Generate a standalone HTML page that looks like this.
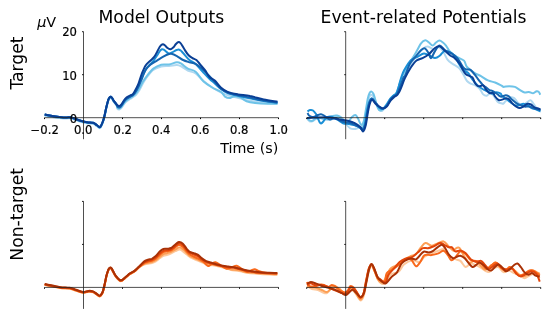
<!DOCTYPE html>
<html><head><meta charset="utf-8"><title>ERP figure</title>
<style>
html,body{margin:0;padding:0;background:#fff;}
svg{display:block;font-family:"DejaVu Sans","Liberation Sans",sans-serif;fill:#000;}
.c{fill:none;stroke-width:2.0;stroke-linejoin:round;stroke-linecap:butt;}
.tk{stroke:#000;stroke-width:1;fill:none;}
.ax{stroke:#222;stroke-width:0.8;fill:none;shape-rendering:auto;}
</style></head><body>
<svg width="550" height="320" viewBox="0 0 550 320">
<rect width="550" height="320" fill="#fff"/>
<path class="c" stroke="#b0d8f0" d="M44.7,115.4 C46.5,115.8 52.5,117.1 55.6,117.6 C58.7,118.1 60.8,118.3 63.4,118.5 C66.0,118.7 68.7,118.0 71.2,118.5 C73.8,119.0 76.4,120.4 79.0,121.2 C81.6,122.0 84.6,122.8 86.9,123.2 C89.2,123.6 91.4,123.3 93.1,123.8 C94.8,124.3 96.0,125.6 97.0,126.3 C98.0,127.0 98.2,127.5 98.8,127.7 C99.3,128.0 99.7,128.5 100.3,127.8 C100.9,127.1 101.8,125.3 102.5,123.5 C103.2,121.7 103.8,119.8 104.4,117.2 C105.1,114.7 105.7,110.7 106.4,107.9 C107.1,105.1 107.9,102.1 108.4,100.5 C109.0,98.9 109.3,98.8 109.7,98.3 C110.1,97.8 110.4,97.7 110.8,97.8 C111.2,97.9 111.5,98.2 112.0,98.8 C112.5,99.4 112.8,100.5 113.6,101.6 C114.4,102.7 115.9,104.3 116.6,105.5 C117.2,106.7 117.0,108.1 117.5,108.8 C118.0,109.5 118.7,109.6 119.3,109.5 C119.9,109.4 120.2,109.4 121.2,108.2 C122.2,107.0 123.8,104.0 125.3,102.5 C126.8,101.0 128.7,99.9 130.0,99.0 C131.3,98.1 132.1,97.8 133.1,97.0 C134.1,96.2 135.2,95.7 136.2,94.5 C137.3,93.3 138.2,92.2 139.5,90.0 C140.8,87.8 142.2,84.3 144.0,81.4 C145.8,78.5 148.5,74.9 150.3,72.8 C152.1,70.7 153.2,70.0 155.0,69.0 C156.8,68.0 158.9,67.0 161.2,66.5 C163.6,66.0 166.4,66.2 169.0,66.0 C171.6,65.8 174.8,64.9 176.9,65.0 C179.0,65.1 179.8,65.6 181.6,66.5 C183.4,67.4 185.5,69.3 187.8,70.5 C190.1,71.7 193.0,71.8 195.6,73.5 C198.2,75.2 200.8,78.7 203.6,81.0 C206.4,83.3 209.3,85.6 212.2,87.5 C215.1,89.4 217.9,90.9 220.8,92.3 C223.7,93.7 226.2,94.8 229.4,95.8 C232.6,96.8 236.3,97.5 239.7,98.3 C243.1,99.1 246.0,100.1 250.0,100.8 C254.0,101.5 259.1,102.2 263.7,102.7 C268.3,103.2 275.2,103.4 277.5,103.5"/>
<path class="c" stroke="#6ec3e8" d="M44.7,115.0 C46.5,115.4 52.5,116.7 55.6,117.2 C58.7,117.7 60.8,117.9 63.4,118.1 C66.0,118.2 68.7,117.6 71.2,118.1 C73.8,118.5 76.4,120.0 79.0,120.8 C81.6,121.6 84.6,122.4 86.9,122.8 C89.2,123.2 91.4,122.9 93.1,123.4 C94.8,123.9 96.0,125.2 97.0,125.9 C98.0,126.5 98.2,127.0 98.8,127.3 C99.3,127.5 99.7,128.1 100.3,127.4 C100.9,126.7 101.8,124.9 102.5,123.1 C103.2,121.3 103.8,119.4 104.4,116.8 C105.1,114.2 105.7,110.3 106.4,107.5 C107.1,104.7 107.9,101.7 108.4,100.1 C109.0,98.5 109.3,98.3 109.7,97.9 C110.1,97.4 110.4,97.3 110.8,97.4 C111.2,97.5 111.5,97.8 112.0,98.4 C112.5,99.0 112.8,100.1 113.6,101.2 C114.4,102.3 115.9,104.0 116.6,105.1 C117.2,106.2 117.0,107.2 117.5,107.8 C118.0,108.4 118.7,108.6 119.3,108.5 C119.9,108.4 120.2,108.4 121.2,107.2 C122.2,106.0 123.8,103.0 125.3,101.5 C126.8,100.0 128.7,98.9 130.0,98.0 C131.3,97.1 132.1,96.8 133.1,96.0 C134.1,95.2 135.2,94.3 136.2,93.0 C137.3,91.7 138.4,89.9 139.5,88.0 C140.6,86.1 141.7,83.6 143.0,81.5 C144.3,79.4 145.5,77.8 147.2,75.6 C148.9,73.4 151.1,70.4 153.4,68.6 C155.7,66.8 158.7,65.4 161.2,64.7 C163.8,64.0 166.4,64.8 169.0,64.4 C171.6,64.0 174.8,62.4 176.9,62.3 C179.0,62.2 179.8,62.9 181.6,63.9 C183.4,65.0 185.5,67.3 187.8,68.6 C190.1,69.9 193.0,69.5 195.6,71.7 C198.2,73.9 200.8,78.9 203.6,81.5 C206.4,84.1 209.3,85.8 212.2,87.5 C215.1,89.2 218.7,90.3 220.8,91.8 C222.9,93.3 223.6,95.5 225.0,96.6 C226.4,97.6 228.0,98.1 229.4,98.1 C230.8,98.1 232.0,96.6 233.7,96.4 C235.4,96.2 237.6,96.2 239.7,97.0 C241.8,97.8 243.9,100.2 246.5,101.2 C249.1,102.2 251.7,102.6 255.1,103.0 C258.6,103.4 263.5,103.7 267.2,103.8 C270.9,103.9 275.8,103.8 277.5,103.8"/>
<path class="c" stroke="#1b8fd6" d="M44.7,114.4 C46.5,114.8 52.5,116.1 55.6,116.6 C58.7,117.1 60.8,117.3 63.4,117.5 C66.0,117.7 68.7,117.0 71.2,117.5 C73.8,118.0 76.4,119.4 79.0,120.2 C81.6,121.0 84.6,121.8 86.9,122.2 C89.2,122.6 91.4,122.3 93.1,122.8 C94.8,123.3 96.0,124.6 97.0,125.3 C98.0,126.0 98.2,126.5 98.8,126.7 C99.3,127.0 99.7,127.5 100.3,126.8 C100.9,126.1 101.8,124.3 102.5,122.5 C103.2,120.7 103.8,118.8 104.4,116.2 C105.1,113.7 105.7,109.7 106.4,106.9 C107.1,104.1 107.9,101.1 108.4,99.5 C109.0,97.9 109.3,97.8 109.7,97.3 C110.1,96.8 110.4,96.7 110.8,96.8 C111.2,96.9 111.5,97.2 112.0,97.8 C112.5,98.4 112.8,99.5 113.6,100.6 C114.4,101.7 115.9,103.5 116.6,104.5 C117.2,105.5 117.0,105.9 117.5,106.3 C118.0,106.7 118.7,107.1 119.3,107.0 C119.9,106.9 120.2,106.9 121.2,105.7 C122.2,104.5 123.8,101.2 125.3,99.6 C126.8,98.0 128.7,97.1 130.0,96.3 C131.3,95.5 132.1,95.6 133.1,94.6 C134.1,93.5 135.3,91.8 136.2,90.0 C137.2,88.2 138.0,86.2 139.0,84.0 C140.0,81.8 140.8,79.5 142.0,77.0 C143.2,74.5 144.7,71.1 146.0,69.0 C147.3,66.9 148.8,65.9 150.0,64.5 C151.2,63.1 152.1,62.6 153.4,60.8 C154.8,59.0 156.9,55.5 158.1,53.8 C159.2,52.0 159.7,51.3 160.3,50.5 C161.0,49.7 161.4,49.4 162.0,49.2 C162.6,49.1 163.1,49.2 163.8,49.6 C164.5,50.0 165.1,50.8 166.0,51.5 C166.9,52.2 168.0,53.4 169.0,53.6 C170.0,53.8 170.9,53.0 172.0,52.5 C173.1,52.0 174.4,51.1 175.3,50.6 C176.2,50.1 176.8,49.9 177.5,49.8 C178.2,49.6 178.6,49.5 179.2,49.7 C179.8,49.9 180.3,50.2 181.0,50.8 C181.7,51.3 181.7,51.5 183.1,53.0 C184.5,54.5 187.3,58.2 189.4,60.0 C191.5,61.8 193.3,61.8 195.6,63.9 C197.9,66.0 201.1,70.0 203.4,72.5 C205.7,75.0 207.7,77.2 209.6,79.0 C211.5,80.8 212.9,81.8 214.8,83.5 C216.7,85.2 218.7,87.4 220.8,89.0 C222.9,90.6 224.7,91.9 227.6,93.0 C230.5,94.1 234.3,94.9 238.0,95.8 C241.7,96.7 245.7,97.4 250.0,98.3 C254.3,99.2 259.1,100.2 263.7,101.0 C268.3,101.8 275.2,102.5 277.5,102.8"/>
<path class="c" stroke="#1565b0" d="M44.7,114.4 C46.5,114.8 52.5,116.1 55.6,116.6 C58.7,117.1 60.8,117.3 63.4,117.5 C66.0,117.7 68.7,117.0 71.2,117.5 C73.8,118.0 76.4,119.4 79.0,120.2 C81.6,121.0 84.6,121.8 86.9,122.2 C89.2,122.6 91.4,122.3 93.1,122.8 C94.8,123.3 96.0,124.6 97.0,125.3 C98.0,126.0 98.2,126.5 98.8,126.7 C99.3,127.0 99.7,127.5 100.3,126.8 C100.9,126.1 101.8,124.3 102.5,122.5 C103.2,120.7 103.8,118.8 104.4,116.2 C105.1,113.7 105.7,109.7 106.4,106.9 C107.1,104.1 107.9,101.1 108.4,99.5 C109.0,97.9 109.3,97.8 109.7,97.3 C110.1,96.8 110.4,96.7 110.8,96.8 C111.2,96.9 111.5,97.2 112.0,97.8 C112.5,98.4 112.8,99.5 113.6,100.6 C114.4,101.7 115.9,103.5 116.6,104.5 C117.2,105.5 117.0,106.3 117.5,106.8 C118.0,107.3 118.7,107.6 119.3,107.5 C119.9,107.4 120.2,107.5 121.2,106.2 C122.2,105.0 123.8,101.6 125.3,100.0 C126.8,98.4 128.7,97.6 130.0,96.8 C131.3,96.0 132.1,96.0 133.1,95.0 C134.1,94.0 135.3,92.6 136.2,91.0 C137.2,89.4 138.0,87.6 139.0,85.5 C140.0,83.4 140.9,81.1 142.0,78.5 C143.1,75.9 144.2,72.3 145.6,70.0 C147.0,67.7 148.5,66.2 150.3,64.7 C152.1,63.2 154.5,62.1 156.6,60.8 C158.7,59.5 160.7,58.0 162.8,56.9 C164.9,55.8 167.6,54.5 169.0,54.0 C170.4,53.5 170.1,53.4 171.4,53.8 C172.7,54.1 175.0,55.1 176.9,56.1 C178.8,57.1 181.0,59.0 183.1,60.0 C185.2,61.0 187.3,61.6 189.4,62.3 C191.5,62.9 193.5,62.9 195.6,63.9 C197.7,65.0 199.8,66.8 201.9,68.6 C204.0,70.4 205.9,72.6 208.1,74.8 C210.2,77.0 212.7,79.7 214.8,82.0 C216.9,84.3 218.7,86.8 220.8,88.5 C222.9,90.2 224.7,91.4 227.6,92.5 C230.5,93.6 234.3,94.5 238.0,95.3 C241.7,96.1 245.7,96.6 250.0,97.5 C254.3,98.4 259.1,99.7 263.7,100.5 C268.3,101.3 275.2,102.2 277.5,102.5"/>
<path class="c" stroke="#0a3f95" d="M44.7,114.4 C46.5,114.8 52.5,116.1 55.6,116.6 C58.7,117.1 60.8,117.3 63.4,117.5 C66.0,117.7 68.7,117.0 71.2,117.5 C73.8,118.0 76.4,119.4 79.0,120.2 C81.6,121.0 84.6,121.8 86.9,122.2 C89.2,122.6 91.4,122.3 93.1,122.8 C94.8,123.3 96.0,124.6 97.0,125.3 C98.0,126.0 98.2,126.5 98.8,126.7 C99.3,127.0 99.7,127.5 100.3,126.8 C100.9,126.1 101.8,124.3 102.5,122.5 C103.2,120.7 103.8,118.8 104.4,116.2 C105.1,113.7 105.7,109.7 106.4,106.9 C107.1,104.1 107.9,101.1 108.4,99.5 C109.0,97.9 109.3,97.8 109.7,97.3 C110.1,96.8 110.4,96.7 110.8,96.8 C111.2,96.9 111.5,97.2 112.0,97.8 C112.5,98.4 112.8,99.5 113.6,100.6 C114.4,101.7 115.9,103.7 116.6,104.5 C117.2,105.3 117.0,105.0 117.5,105.3 C118.0,105.5 118.7,106.1 119.3,106.0 C119.9,105.9 120.2,105.9 121.2,104.7 C122.2,103.5 123.8,100.1 125.3,98.6 C126.8,97.1 128.7,96.3 130.0,95.5 C131.3,94.7 132.1,95.1 133.1,93.9 C134.1,92.7 135.3,90.2 136.2,88.4 C137.2,86.7 137.7,85.8 138.6,83.4 C139.5,81.0 140.5,77.0 141.7,74.0 C142.9,71.0 144.2,67.7 145.6,65.5 C147.0,63.3 148.9,62.2 150.3,60.8 C151.7,59.4 153.0,58.5 154.2,56.9 C155.4,55.3 156.4,53.0 157.3,51.4 C158.2,49.8 158.8,48.4 159.5,47.3 C160.2,46.2 160.7,45.5 161.3,45.0 C161.9,44.5 162.4,44.3 163.0,44.3 C163.6,44.3 164.1,44.7 164.8,45.2 C165.5,45.8 166.1,46.9 167.0,47.6 C167.9,48.3 169.2,49.4 170.3,49.3 C171.4,49.2 172.6,48.0 173.5,47.2 C174.4,46.4 174.9,45.2 175.5,44.5 C176.1,43.8 176.8,43.1 177.3,42.7 C177.9,42.3 178.3,42.1 178.8,42.1 C179.3,42.1 179.8,42.4 180.3,42.9 C180.8,43.4 181.3,44.1 182.0,45.2 C182.7,46.4 183.6,48.1 184.7,49.8 C185.8,51.5 187.3,53.9 188.6,55.3 C189.9,56.7 191.2,57.3 192.5,58.1 C193.8,58.9 195.1,58.9 196.4,60.0 C197.7,61.1 198.9,63.0 200.3,64.7 C201.7,66.4 203.4,68.1 205.0,70.2 C206.6,72.3 208.0,75.5 209.6,77.2 C211.2,78.9 212.9,78.9 214.8,80.6 C216.7,82.3 218.7,85.6 220.8,87.5 C222.9,89.4 224.7,90.6 227.6,91.8 C230.5,93.0 234.3,93.7 238.0,94.4 C241.7,95.1 245.7,95.2 250.0,96.1 C254.3,96.9 259.1,98.6 263.7,99.5 C268.3,100.4 275.2,101.4 277.5,101.8"/>
<path class="ax" d="M44.5,117.7 H278.5 M83.5,31.7 V139.2"/>
<path class="tk" d="M44.5,117.7 v1.4 M122.5,117.7 v1.4 M161.5,117.7 v1.4 M200.5,117.7 v1.4 M239.5,117.7 v1.4 M278.5,117.7 v1.4 M83.5,74.7 h-1.4 M83.5,31.7 h-1.4 "/>
<path class="c" stroke="#b0d8f0" d="M307.5,119.0 C307.9,119.4 309.1,121.2 310.0,121.5 C310.9,121.8 312.0,121.4 313.0,121.0 C314.0,120.6 314.8,119.5 316.0,119.0 C317.2,118.5 318.5,117.9 320.0,118.0 C321.5,118.1 323.3,119.2 325.0,119.5 C326.7,119.8 328.2,120.4 330.0,120.0 C331.8,119.6 334.3,117.6 336.0,117.0 C337.7,116.4 338.8,116.2 340.0,116.5 C341.2,116.8 342.0,117.8 343.0,119.0 C344.0,120.2 344.8,122.4 346.0,124.0 C347.2,125.6 348.9,127.6 350.3,128.4 C351.8,129.2 353.4,129.1 354.7,129.0 C356.0,128.9 356.9,128.2 358.0,128.0 C359.1,127.8 360.5,128.5 361.5,127.5 C362.5,126.5 363.4,124.8 364.2,122.0 C365.0,119.2 365.7,114.6 366.4,111.0 C367.1,107.4 367.7,103.1 368.3,100.5 C368.9,97.9 369.5,96.4 370.1,95.5 C370.7,94.6 371.3,94.4 372.0,95.0 C372.7,95.6 373.7,97.3 374.5,99.0 C375.3,100.7 376.2,103.2 377.0,105.0 C377.8,106.8 378.7,109.0 379.5,110.0 C380.3,111.0 381.1,111.3 382.0,111.0 C382.9,110.7 383.9,109.3 385.0,108.0 C386.1,106.7 387.3,104.7 388.5,103.0 C389.7,101.3 390.8,99.3 392.0,98.0 C393.2,96.7 394.4,96.0 395.5,95.0 C396.6,94.0 397.5,93.8 398.5,92.0 C399.5,90.2 400.4,87.3 401.5,84.5 C402.6,81.7 403.6,78.2 405.0,75.0 C406.4,71.8 408.2,68.0 410.0,65.0 C411.8,62.0 414.2,59.4 416.0,57.0 C417.8,54.6 419.1,52.3 421.0,50.5 C422.9,48.7 425.2,46.6 427.2,46.4 C429.2,46.1 431.0,48.9 433.0,49.0 C435.0,49.1 437.3,46.9 439.0,47.2 C440.7,47.5 441.6,48.9 443.0,51.0 C444.4,53.1 446.0,57.6 447.5,59.7 C449.0,61.8 450.6,62.5 452.2,63.6 C453.8,64.8 455.9,65.7 457.2,66.6 C458.5,67.5 458.9,67.8 460.0,69.1 C461.1,70.4 462.3,72.7 463.5,74.7 C464.7,76.7 465.7,79.5 467.0,81.0 C468.3,82.5 469.8,83.2 471.2,83.9 C472.6,84.6 474.0,84.5 475.4,85.3 C476.8,86.1 478.4,87.3 479.7,88.8 C481.0,90.3 482.0,93.2 483.2,94.4 C484.4,95.6 485.5,96.0 486.7,95.8 C487.9,95.6 489.0,93.0 490.2,93.0 C491.4,93.0 492.4,94.3 493.7,95.8 C495.0,97.3 496.5,100.8 497.9,102.1 C499.3,103.4 501.2,103.2 502.1,103.5 C503.0,103.8 502.8,104.0 503.4,103.6 C504.0,103.2 504.6,102.0 505.7,101.0 C506.8,100.0 508.6,98.0 510.0,97.5 C511.4,97.0 512.9,97.4 514.2,98.2 C515.5,99.0 516.4,101.2 517.7,102.4 C519.0,103.6 520.5,105.1 521.9,105.2 C523.3,105.3 524.7,103.9 526.1,103.1 C527.5,102.3 529.1,100.3 530.3,100.3 C531.5,100.3 532.0,101.8 533.1,103.1 C534.2,104.4 535.4,106.8 536.6,108.0 C537.8,109.2 539.9,109.8 540.5,110.1"/>
<path class="c" stroke="#6ec3e8" d="M307.5,118.0 C307.8,118.3 308.2,119.5 309.0,120.0 C309.8,120.5 311.0,121.2 312.0,121.0 C313.0,120.8 314.0,119.6 315.0,119.0 C316.0,118.4 316.7,117.6 318.0,117.5 C319.3,117.4 321.3,118.2 323.0,118.5 C324.7,118.8 326.3,119.4 328.0,119.0 C329.7,118.6 331.5,116.6 333.0,116.0 C334.5,115.4 335.8,115.3 337.0,115.5 C338.2,115.7 339.0,116.2 340.0,117.0 C341.0,117.8 342.0,119.1 343.0,120.0 C344.0,120.9 345.0,122.3 346.0,122.5 C347.0,122.7 348.0,121.9 349.0,121.0 C350.0,120.1 350.9,118.0 352.0,117.0 C353.1,116.0 354.4,114.8 355.4,115.1 C356.4,115.3 357.0,116.9 358.0,118.5 C359.0,120.1 360.2,124.5 361.2,124.9 C362.2,125.3 363.0,123.7 363.8,121.0 C364.6,118.3 365.3,112.8 366.0,109.0 C366.7,105.2 367.2,101.2 367.8,98.5 C368.4,95.8 369.0,94.2 369.6,93.0 C370.2,91.8 371.0,91.4 371.6,91.6 C372.2,91.8 372.9,92.7 373.5,94.0 C374.1,95.3 374.7,97.7 375.3,99.7 C375.9,101.7 376.4,104.3 377.0,106.0 C377.6,107.7 378.2,109.3 379.0,110.0 C379.8,110.7 380.7,110.4 381.5,110.0 C382.3,109.6 383.0,109.0 384.0,107.8 C385.0,106.6 386.3,104.6 387.5,103.0 C388.7,101.4 389.8,99.3 391.0,98.0 C392.2,96.7 393.5,95.9 394.5,95.0 C395.5,94.1 396.1,94.2 396.9,92.5 C397.7,90.8 398.4,87.8 399.3,85.0 C400.2,82.2 401.1,78.9 402.4,76.0 C403.7,73.1 404.7,71.5 407.0,67.5 C409.3,63.5 413.9,55.9 416.2,51.9 C418.6,47.9 419.5,45.2 421.0,43.3 C422.5,41.3 424.0,40.3 425.3,40.2 C426.6,40.1 427.8,41.6 429.0,42.5 C430.2,43.4 431.5,45.6 432.7,45.6 C433.9,45.6 434.9,43.3 436.0,42.5 C437.1,41.7 438.2,40.6 439.4,40.6 C440.6,40.6 441.9,41.7 443.0,42.5 C444.1,43.3 444.8,44.0 446.0,45.6 C447.2,47.2 448.4,50.1 450.3,52.0 C452.2,53.9 454.9,55.8 457.2,57.2 C459.5,58.6 462.4,59.0 464.0,60.6 C465.6,62.2 465.3,65.0 467.0,67.0 C468.7,69.0 471.7,71.1 474.0,72.6 C476.3,74.1 478.7,74.9 481.0,76.2 C483.3,77.5 485.6,79.4 488.0,80.4 C490.4,81.5 492.8,81.6 495.1,82.5 C497.5,83.4 500.7,85.3 502.1,86.0 C503.5,86.7 502.4,86.9 503.6,86.9 C504.8,86.9 507.3,86.2 509.2,86.2 C511.1,86.2 513.0,86.2 514.9,86.9 C516.8,87.6 518.9,89.5 520.5,90.4 C522.1,91.4 523.3,92.3 524.7,92.6 C526.1,92.8 527.5,91.8 528.9,91.9 C530.3,92.0 531.8,93.4 533.1,93.3 C534.4,93.2 535.7,91.4 536.6,91.2 C537.5,91.0 538.1,91.3 538.7,91.9 C539.3,92.5 540.0,94.2 540.3,94.7"/>
<path class="c" stroke="#1b8fd6" d="M307.5,111.5 C307.9,111.2 309.1,110.2 310.0,110.0 C310.9,109.8 312.0,109.8 313.0,110.5 C314.0,111.2 315.2,112.8 316.0,114.0 C316.8,115.2 316.9,116.2 317.5,117.5 C318.1,118.8 318.9,121.0 319.5,122.0 C320.1,123.0 320.4,123.6 321.0,123.5 C321.6,123.4 322.5,122.4 323.3,121.5 C324.1,120.6 325.1,118.8 326.0,118.0 C326.9,117.2 327.7,117.0 328.5,116.8 C329.3,116.5 330.1,116.3 331.0,116.5 C331.9,116.7 332.8,117.4 334.0,118.0 C335.2,118.6 336.5,119.1 338.0,120.0 C339.5,120.9 341.2,122.5 343.0,123.2 C344.8,123.9 347.0,123.7 348.8,124.0 C350.6,124.3 352.2,124.5 354.0,125.0 C355.8,125.5 358.1,126.3 359.5,127.0 C360.9,127.7 361.3,129.8 362.2,129.2 C363.1,128.6 364.1,126.4 364.9,123.5 C365.7,120.6 366.1,115.4 366.8,112.0 C367.5,108.6 368.0,105.2 368.8,103.0 C369.6,100.8 370.5,98.6 371.5,98.5 C372.5,98.4 373.8,101.0 375.0,102.5 C376.2,104.0 377.8,106.4 379.0,107.5 C380.2,108.6 381.2,109.4 382.5,109.0 C383.8,108.6 385.2,106.7 386.5,105.0 C387.8,103.3 388.8,100.6 390.0,99.0 C391.2,97.4 392.5,96.4 393.5,95.5 C394.5,94.6 395.4,95.1 396.2,93.5 C397.1,91.9 397.9,88.8 398.8,86.0 C399.6,83.2 400.5,79.6 401.4,77.0 C402.3,74.4 402.5,73.3 404.0,70.6 C405.6,67.8 408.3,62.8 410.6,60.5 C412.9,58.2 415.5,57.8 417.8,56.6 C420.0,55.4 421.9,53.5 424.0,53.4 C426.1,53.3 428.5,55.0 430.3,55.8 C432.1,56.6 433.4,58.1 435.0,58.1 C436.6,58.1 438.1,57.0 439.7,55.8 C441.3,54.6 442.6,51.6 444.4,51.1 C446.2,50.6 448.8,51.5 450.6,52.5 C452.4,53.5 453.4,54.8 455.0,57.0 C456.6,59.2 458.5,63.3 460.0,65.6 C461.5,67.8 462.8,69.2 464.2,70.5 C465.6,71.8 467.0,71.8 468.4,73.3 C469.8,74.8 471.2,77.8 472.6,79.7 C474.0,81.6 475.5,83.2 476.9,84.6 C478.3,86.0 479.7,87.1 481.0,88.0 C482.3,88.9 483.4,89.6 484.6,90.2 C485.8,90.8 486.7,91.0 488.0,91.6 C489.3,92.2 490.9,93.6 492.3,93.7 C493.7,93.8 495.1,92.3 496.5,92.3 C497.9,92.3 499.8,93.1 500.7,93.7 C501.6,94.3 501.2,95.2 502.2,96.1 C503.1,97.0 505.0,97.9 506.4,98.9 C507.8,100.0 509.2,101.4 510.6,102.4 C512.0,103.5 513.5,104.7 514.9,105.2 C516.3,105.7 517.7,105.4 519.1,105.2 C520.5,105.0 521.9,103.8 523.3,103.8 C524.7,103.8 526.1,104.5 527.5,105.2 C528.9,105.9 530.3,107.3 531.7,108.0 C533.1,108.7 534.4,108.8 535.9,109.4 C537.4,110.0 539.7,111.2 540.5,111.5"/>
<path class="c" stroke="#1565b0" d="M307.5,113.0 C307.8,113.4 308.2,114.8 309.0,115.5 C309.8,116.2 311.0,116.8 312.0,117.0 C313.0,117.2 314.0,116.8 315.0,116.5 C316.0,116.2 317.0,115.4 318.0,115.0 C319.0,114.6 320.0,114.1 321.0,114.2 C322.0,114.3 323.0,114.9 324.0,115.5 C325.0,116.1 326.0,117.3 327.0,118.0 C328.0,118.7 329.0,119.4 330.0,119.5 C331.0,119.6 332.0,118.8 333.0,118.5 C334.0,118.2 334.8,117.7 336.0,118.0 C337.2,118.3 338.7,119.8 340.0,120.5 C341.3,121.2 342.3,121.6 344.0,122.0 C345.7,122.4 348.2,122.5 350.0,123.0 C351.8,123.5 353.3,124.2 355.0,125.0 C356.7,125.8 358.7,126.9 360.0,127.8 C361.3,128.7 361.8,130.8 362.7,130.2 C363.6,129.6 364.6,127.4 365.3,124.5 C366.1,121.6 366.6,116.5 367.2,113.0 C367.8,109.5 368.4,105.9 369.2,103.5 C370.0,101.1 370.8,98.8 371.8,98.5 C372.8,98.2 373.8,100.7 375.0,102.0 C376.2,103.3 377.7,105.4 379.0,106.5 C380.3,107.6 381.7,108.7 383.0,108.5 C384.3,108.3 385.8,107.0 387.0,105.5 C388.2,104.0 389.3,101.1 390.5,99.5 C391.7,97.9 392.9,96.9 394.0,96.0 C395.1,95.1 396.0,95.5 397.0,94.0 C398.0,92.5 398.9,89.8 400.0,87.0 C401.1,84.2 402.6,79.5 403.5,77.5 C404.4,75.5 404.2,77.6 405.3,75.3 C406.4,73.0 408.2,66.8 410.0,63.6 C411.8,60.4 414.4,58.0 416.2,55.8 C418.1,53.6 419.6,51.5 421.0,50.3 C422.4,49.1 423.5,47.9 424.8,48.4 C426.1,48.9 427.7,51.8 428.8,53.4 C429.8,55.0 430.1,58.5 431.1,58.1 C432.1,57.7 433.6,53.2 435.0,51.1 C436.4,49.0 438.0,45.7 439.7,45.6 C441.4,45.5 443.1,48.9 445.2,50.3 C447.2,51.6 450.0,52.4 452.0,53.7 C454.0,55.0 455.9,56.6 457.2,58.0 C458.5,59.4 458.9,60.5 460.0,62.1 C461.1,63.7 462.4,66.5 463.5,67.7 C464.6,68.9 465.2,69.2 466.3,69.5 C467.4,69.8 468.8,69.1 469.8,69.5 C470.9,69.9 471.7,71.0 472.6,72.0 C473.5,73.0 474.3,74.0 475.4,75.4 C476.5,76.8 477.8,78.9 479.0,80.4 C480.2,81.9 481.3,83.4 482.5,84.6 C483.7,85.8 484.8,86.5 486.0,87.4 C487.2,88.3 488.4,89.6 489.5,90.2 C490.6,90.8 491.2,90.4 492.3,90.9 C493.4,91.4 494.6,92.2 495.8,93.0 C497.0,93.8 498.4,95.2 499.3,95.8 C500.2,96.4 500.6,96.9 501.5,96.8 C502.4,96.7 503.8,95.5 505.0,95.4 C506.2,95.3 507.3,95.4 508.5,96.1 C509.7,96.8 510.7,98.4 512.0,99.6 C513.3,100.8 514.9,102.2 516.3,103.1 C517.7,104.0 519.1,104.6 520.5,105.2 C521.9,105.8 523.3,106.4 524.7,106.6 C526.1,106.8 527.5,106.4 528.9,106.6 C530.3,106.8 531.7,107.5 533.1,108.0 C534.5,108.5 536.1,109.1 537.3,109.4 C538.5,109.8 540.0,110.0 540.5,110.1"/>
<path class="c" stroke="#0a3f95" d="M307.0,118.0 C307.8,118.0 310.2,117.9 312.0,117.8 C313.8,117.7 315.8,117.6 318.0,117.5 C320.2,117.4 323.0,117.3 325.0,117.3 C327.0,117.3 328.3,117.3 330.0,117.5 C331.7,117.7 333.3,118.2 335.0,118.5 C336.7,118.8 337.7,119.2 340.0,119.6 C342.3,120.0 346.4,120.4 348.8,121.0 C351.2,121.6 352.8,122.2 354.7,123.2 C356.6,124.2 359.1,125.8 360.5,127.2 C361.9,128.6 362.3,131.8 363.2,131.4 C364.1,131.0 365.1,127.9 365.8,125.0 C366.5,122.1 367.0,117.4 367.6,114.0 C368.2,110.6 368.9,106.9 369.6,104.5 C370.3,102.1 371.1,99.9 372.0,99.7 C372.9,99.5 374.0,102.2 375.3,103.4 C376.6,104.6 378.4,106.2 379.7,107.0 C381.0,107.8 382.2,108.6 383.4,108.5 C384.6,108.4 385.8,107.6 387.0,106.3 C388.2,105.0 389.5,102.0 390.7,100.4 C391.9,98.8 393.2,97.8 394.4,96.8 C395.6,95.8 396.6,96.0 397.7,94.5 C398.8,93.0 399.9,90.7 401.0,88.0 C402.2,85.3 403.2,81.8 404.8,78.4 C406.4,75.0 408.9,70.5 410.8,67.5 C412.8,64.5 414.5,62.1 416.5,60.5 C418.4,58.9 420.5,59.1 422.5,58.1 C424.5,57.1 426.7,55.9 428.8,54.2 C430.8,52.5 433.2,49.3 435.0,48.0 C436.8,46.7 438.1,46.0 439.7,46.4 C441.3,46.8 442.6,48.7 444.4,50.3 C446.2,51.9 449.1,54.6 450.6,55.8 C452.2,56.9 452.1,55.8 453.7,57.2 C455.3,58.6 458.5,62.1 460.0,64.2 C461.5,66.3 461.9,68.2 462.8,69.8 C463.7,71.4 464.4,72.9 465.6,74.0 C466.8,75.1 468.6,75.6 469.8,76.2 C471.0,76.8 471.8,76.5 472.6,77.6 C473.4,78.6 473.9,81.1 474.7,82.5 C475.5,83.9 476.7,85.4 477.6,86.0 C478.6,86.6 479.5,86.1 480.4,86.0 C481.3,85.9 482.3,84.7 483.2,85.3 C484.1,85.9 484.9,88.2 486.0,89.5 C487.1,90.8 488.3,92.4 489.5,93.0 C490.7,93.6 492.1,92.4 493.0,93.0 C493.9,93.6 494.2,95.3 495.1,96.5 C496.0,97.7 497.4,99.5 498.6,100.0 C499.8,100.5 500.9,99.9 502.2,99.6 C503.5,99.3 505.2,98.2 506.4,98.2 C507.6,98.2 508.3,98.8 509.2,99.6 C510.1,100.4 510.8,101.9 512.0,103.1 C513.2,104.3 515.0,105.8 516.3,106.6 C517.6,107.4 518.6,108.0 519.8,108.0 C521.0,108.0 522.0,107.3 523.3,106.6 C524.6,105.9 526.2,104.1 527.5,103.8 C528.8,103.5 529.8,103.9 531.0,104.5 C532.2,105.1 533.2,106.6 534.5,107.3 C535.8,108.0 537.7,108.3 538.7,108.7 C539.7,109.1 540.2,109.3 540.5,109.4"/>
<path class="ax" d="M306.7,117.7 H540.7 M345.7,31.7 V139.2"/>
<path class="tk" d="M306.7,117.7 v1.4 M384.7,117.7 v1.4 M423.7,117.7 v1.4 M462.7,117.7 v1.4 M501.7,117.7 v1.4 M540.7,117.7 v1.4 M345.7,74.7 h-1.4 M345.7,31.7 h-1.4 "/>
<path class="c" stroke="#fdc89b" d="M44.7,284.9 C46.0,285.2 49.9,286.0 52.5,286.5 C55.1,287.0 57.4,287.7 60.3,288.1 C63.2,288.5 67.1,288.3 69.7,288.7 C72.3,289.1 73.8,290.0 76.0,290.7 C78.2,291.4 80.9,292.6 83.0,292.8 C85.1,293.0 86.7,291.9 88.4,291.8 C90.1,291.7 91.7,291.8 93.1,292.3 C94.5,292.8 95.9,294.2 97.0,294.9 C98.1,295.6 98.9,296.8 99.8,296.5 C100.7,296.2 101.7,294.8 102.5,293.1 C103.3,291.4 103.8,288.8 104.4,286.1 C105.1,283.4 105.8,279.2 106.4,276.7 C107.0,274.2 107.7,272.2 108.2,270.9 C108.7,269.6 109.1,269.2 109.5,268.8 C109.9,268.4 110.2,268.3 110.6,268.4 C111.0,268.5 111.4,268.9 111.8,269.5 C112.2,270.1 112.5,271.0 113.2,272.2 C113.9,273.4 114.6,275.2 115.8,276.7 C117.0,278.2 119.0,281.0 120.6,281.2 C122.2,281.4 123.7,279.3 125.3,278.1 C126.9,276.9 128.4,275.3 130.0,274.2 C131.6,273.1 133.1,272.7 134.7,271.5 C136.3,270.3 137.8,268.3 139.4,267.1 C141.0,266.0 142.6,265.1 144.0,264.5 C145.4,263.9 146.7,264.0 148.0,263.7 C149.3,263.5 150.6,263.5 151.9,263.1 C153.2,262.7 154.5,262.1 155.8,261.3 C157.1,260.5 158.4,259.2 159.7,258.3 C161.0,257.4 162.1,256.4 163.4,255.8 C164.7,255.2 166.2,255.2 167.5,254.8 C168.8,254.4 169.9,253.9 171.2,253.3 C172.5,252.7 173.8,251.7 175.3,251.1 C176.8,250.5 178.5,249.3 180.0,249.5 C181.5,249.8 183.2,251.7 184.4,252.6 C185.7,253.6 186.5,254.2 187.5,255.1 C188.5,255.9 189.0,256.7 190.6,257.5 C192.2,258.4 194.8,259.4 196.9,260.2 C199.0,261.1 201.2,262.0 203.1,262.8 C205.0,263.6 207.0,264.6 208.6,265.0 C210.2,265.4 210.8,265.1 212.5,265.3 C214.2,265.6 216.4,266.0 218.8,266.5 C221.1,267.0 224.6,267.9 226.6,268.5 C228.6,269.1 228.9,269.6 231.0,270.0 C233.1,270.4 236.3,270.5 239.0,271.0 C241.7,271.5 244.3,272.4 247.0,272.8 C249.7,273.2 252.4,273.4 255.0,273.6 C257.6,273.8 260.0,274.1 262.5,274.2 C265.0,274.3 267.5,274.4 270.0,274.5 C272.5,274.6 276.1,274.7 277.3,274.7"/>
<path class="c" stroke="#fd9f55" d="M44.7,284.7 C46.0,285.0 49.9,285.8 52.5,286.3 C55.1,286.8 57.4,287.5 60.3,287.9 C63.2,288.3 67.1,288.1 69.7,288.5 C72.3,288.9 73.8,289.8 76.0,290.5 C78.2,291.2 80.9,292.4 83.0,292.6 C85.1,292.8 86.7,291.7 88.4,291.6 C90.1,291.5 91.7,291.6 93.1,292.1 C94.5,292.6 95.9,294.0 97.0,294.7 C98.1,295.4 98.9,296.6 99.8,296.3 C100.7,296.0 101.7,294.6 102.5,292.9 C103.3,291.2 103.8,288.6 104.4,285.9 C105.1,283.2 105.8,279.0 106.4,276.5 C107.0,274.0 107.7,272.0 108.2,270.7 C108.7,269.4 109.1,269.0 109.5,268.6 C109.9,268.2 110.2,268.1 110.6,268.2 C111.0,268.3 111.4,268.7 111.8,269.3 C112.2,269.9 112.5,270.8 113.2,272.0 C113.9,273.2 114.6,275.0 115.8,276.5 C117.0,278.0 119.0,280.8 120.6,281.0 C122.2,281.2 123.7,279.1 125.3,277.9 C126.9,276.7 128.4,275.1 130.0,274.0 C131.6,272.9 133.1,272.5 134.7,271.3 C136.3,270.1 137.8,268.2 139.4,266.9 C141.0,265.7 142.6,264.7 144.0,264.0 C145.4,263.3 146.7,263.2 148.0,262.8 C149.3,262.5 150.6,262.4 151.9,262.0 C153.2,261.5 154.5,260.9 155.8,260.1 C157.1,259.3 158.4,258.0 159.7,257.0 C161.0,256.0 162.1,254.9 163.4,254.2 C164.7,253.6 166.0,253.5 167.3,253.1 C168.6,252.7 169.9,252.4 171.2,251.8 C172.5,251.2 173.7,250.3 175.1,249.6 C176.5,248.9 178.1,247.5 179.5,247.6 C180.9,247.6 182.2,248.8 183.5,249.7 C184.8,250.7 185.8,252.0 187.0,253.2 C188.2,254.3 188.9,255.4 190.6,256.4 C192.2,257.4 194.8,258.2 196.9,259.1 C199.0,260.1 201.2,261.1 203.1,262.0 C205.0,262.9 207.0,264.1 208.6,264.5 C210.2,264.9 210.8,264.4 212.5,264.6 C214.2,264.8 216.4,265.3 218.8,265.9 C221.1,266.5 224.6,267.4 226.6,268.0 C228.6,268.6 228.9,269.1 231.0,269.5 C233.1,269.9 236.3,269.8 239.0,270.3 C241.7,270.8 244.3,271.9 247.0,272.3 C249.7,272.8 252.4,272.8 255.0,273.0 C257.6,273.2 260.0,273.4 262.5,273.6 C265.0,273.8 267.5,273.9 270.0,274.0 C272.5,274.1 276.1,274.2 277.3,274.2"/>
<path class="c" stroke="#f9691c" d="M44.7,284.5 C46.0,284.8 49.9,285.6 52.5,286.1 C55.1,286.6 57.4,287.3 60.3,287.7 C63.2,288.1 67.1,287.9 69.7,288.3 C72.3,288.7 73.8,289.6 76.0,290.3 C78.2,291.0 80.9,292.2 83.0,292.4 C85.1,292.6 86.7,291.5 88.4,291.4 C90.1,291.3 91.7,291.4 93.1,291.9 C94.5,292.4 95.9,293.8 97.0,294.5 C98.1,295.2 98.9,296.4 99.8,296.1 C100.7,295.8 101.7,294.4 102.5,292.7 C103.3,291.0 103.8,288.4 104.4,285.7 C105.1,283.0 105.8,278.8 106.4,276.3 C107.0,273.8 107.7,271.8 108.2,270.5 C108.7,269.2 109.1,268.8 109.5,268.4 C109.9,268.0 110.2,267.9 110.6,268.0 C111.0,268.1 111.4,268.5 111.8,269.1 C112.2,269.7 112.5,270.6 113.2,271.8 C113.9,273.0 114.6,274.8 115.8,276.3 C117.0,277.8 119.0,280.6 120.6,280.8 C122.2,281.0 123.7,278.9 125.3,277.7 C126.9,276.5 128.4,274.9 130.0,273.8 C131.6,272.7 133.1,272.3 134.7,271.1 C136.3,269.9 137.8,268.1 139.4,266.8 C141.0,265.4 142.6,264.1 144.0,263.3 C145.4,262.5 146.7,262.2 148.0,261.8 C149.3,261.4 150.6,261.3 151.9,260.8 C153.2,260.3 154.5,259.6 155.8,258.6 C157.1,257.6 158.4,256.1 159.7,255.0 C161.0,253.9 162.1,252.8 163.4,252.2 C164.7,251.6 166.0,251.6 167.3,251.3 C168.6,251.0 169.9,250.9 171.2,250.3 C172.5,249.7 173.8,248.4 175.1,247.5 C176.4,246.6 177.6,245.1 178.9,245.0 C180.2,244.9 181.6,245.9 182.9,247.0 C184.2,248.1 185.4,250.2 186.7,251.5 C188.0,252.8 188.9,253.9 190.6,255.0 C192.3,256.1 194.8,256.9 196.9,258.0 C199.0,259.1 201.6,260.4 203.1,261.5 C204.6,262.6 205.1,263.7 206.0,264.5 C206.9,265.3 207.7,266.2 208.6,266.1 C209.5,266.0 210.3,264.6 211.5,264.0 C212.7,263.4 214.0,262.1 215.6,262.3 C217.2,262.6 219.2,264.4 221.0,265.5 C222.8,266.6 224.8,268.4 226.6,268.8 C228.3,269.1 229.8,268.0 231.5,267.5 C233.2,267.0 234.9,265.6 236.7,265.8 C238.4,266.1 240.3,268.0 242.0,269.0 C243.7,270.0 245.4,271.6 246.9,271.9 C248.4,272.1 249.7,270.9 251.0,270.5 C252.3,270.1 253.4,269.1 254.7,269.2 C255.9,269.3 257.2,270.5 258.5,271.0 C259.8,271.5 260.6,271.9 262.5,272.3 C264.4,272.7 267.5,273.0 270.0,273.2 C272.5,273.4 276.1,273.4 277.3,273.5"/>
<path class="c" stroke="#e2460b" d="M44.7,284.3 C46.0,284.6 49.9,285.4 52.5,285.9 C55.1,286.4 57.4,287.1 60.3,287.5 C63.2,287.9 67.1,287.7 69.7,288.1 C72.3,288.5 73.8,289.4 76.0,290.1 C78.2,290.8 80.9,292.0 83.0,292.2 C85.1,292.4 86.7,291.3 88.4,291.2 C90.1,291.1 91.7,291.2 93.1,291.7 C94.5,292.2 95.9,293.6 97.0,294.3 C98.1,295.0 98.9,296.2 99.8,295.9 C100.7,295.6 101.7,294.2 102.5,292.5 C103.3,290.8 103.8,288.2 104.4,285.5 C105.1,282.8 105.8,278.6 106.4,276.1 C107.0,273.6 107.7,271.6 108.2,270.3 C108.7,269.0 109.1,268.6 109.5,268.2 C109.9,267.8 110.2,267.7 110.6,267.8 C111.0,267.9 111.4,268.3 111.8,268.9 C112.2,269.5 112.5,270.4 113.2,271.6 C113.9,272.8 114.6,274.6 115.8,276.1 C117.0,277.6 119.0,280.4 120.6,280.6 C122.2,280.8 123.7,278.7 125.3,277.5 C126.9,276.3 128.4,274.7 130.0,273.6 C131.6,272.5 133.1,272.1 134.7,270.9 C136.3,269.7 137.8,268.0 139.4,266.6 C141.0,265.1 142.6,263.5 144.0,262.5 C145.4,261.5 146.7,261.2 148.0,260.8 C149.3,260.4 150.6,260.4 151.9,259.8 C153.2,259.2 154.5,258.6 155.8,257.5 C157.1,256.4 158.4,254.6 159.7,253.5 C161.0,252.4 162.1,251.4 163.4,250.8 C164.7,250.2 166.0,250.4 167.3,250.2 C168.6,249.9 169.9,250.0 171.2,249.3 C172.5,248.6 173.8,247.2 175.1,246.2 C176.4,245.2 177.6,243.7 178.9,243.5 C180.2,243.3 181.6,244.1 182.9,245.2 C184.2,246.3 185.5,248.7 186.7,250.0 C187.8,251.3 188.6,252.2 189.8,253.0 C191.0,253.8 192.4,254.0 193.8,254.5 C195.1,255.0 196.4,255.4 197.7,256.2 C199.0,257.0 200.2,258.3 201.6,259.3 C203.0,260.3 204.4,261.2 206.2,262.0 C208.1,262.8 210.2,263.2 212.5,263.8 C214.8,264.4 217.7,265.2 220.3,265.8 C222.9,266.4 225.5,266.8 228.1,267.2 C230.7,267.6 233.4,267.8 236.0,268.3 C238.6,268.8 241.2,269.6 243.8,270.2 C246.3,270.8 249.0,271.4 251.6,271.8 C254.2,272.2 256.8,272.6 259.4,272.8 C262.0,273.0 264.2,273.1 267.2,273.2 C270.2,273.3 275.6,273.4 277.3,273.5"/>
<path class="c" stroke="#a93106" d="M44.7,284.0 C46.0,284.3 49.9,285.1 52.5,285.6 C55.1,286.1 57.4,286.8 60.3,287.2 C63.2,287.6 67.1,287.4 69.7,287.8 C72.3,288.2 73.8,289.1 76.0,289.8 C78.2,290.5 80.9,291.7 83.0,291.9 C85.1,292.1 86.7,291.0 88.4,290.9 C90.1,290.8 91.7,290.9 93.1,291.4 C94.5,291.9 95.9,293.3 97.0,294.0 C98.1,294.7 98.9,295.9 99.8,295.6 C100.7,295.3 101.7,293.9 102.5,292.2 C103.3,290.5 103.8,287.9 104.4,285.2 C105.1,282.5 105.8,278.3 106.4,275.8 C107.0,273.3 107.7,271.3 108.2,270.0 C108.7,268.7 109.1,268.3 109.5,267.9 C109.9,267.5 110.2,267.4 110.6,267.5 C111.0,267.6 111.4,268.0 111.8,268.6 C112.2,269.2 112.5,270.1 113.2,271.3 C113.9,272.5 114.6,274.3 115.8,275.8 C117.0,277.3 119.0,280.1 120.6,280.3 C122.2,280.5 123.7,278.4 125.3,277.2 C126.9,276.0 128.4,274.4 130.0,273.3 C131.6,272.2 133.1,271.8 134.7,270.6 C136.3,269.4 137.8,267.8 139.4,266.2 C141.0,264.8 142.6,262.7 144.0,261.6 C145.4,260.5 146.7,260.2 148.0,259.7 C149.3,259.2 150.6,259.4 151.9,258.8 C153.2,258.1 154.5,257.3 155.8,256.1 C157.1,254.9 158.4,252.8 159.7,251.6 C161.0,250.4 162.1,249.5 163.4,249.0 C164.7,248.5 166.0,249.0 167.3,248.8 C168.6,248.6 169.9,248.7 171.2,248.0 C172.5,247.3 173.8,245.8 175.1,244.8 C176.4,243.8 177.6,242.3 178.9,242.1 C180.2,241.9 181.6,242.6 182.9,243.7 C184.2,244.8 185.5,247.4 186.7,248.8 C187.8,250.1 188.6,251.2 189.8,251.9 C191.0,252.6 192.4,252.6 193.8,253.1 C195.1,253.6 196.4,253.9 197.7,254.7 C199.0,255.5 200.2,257.0 201.6,258.1 C203.0,259.2 204.4,260.3 206.2,261.1 C208.1,261.9 210.2,262.4 212.5,263.1 C214.8,263.8 217.7,264.7 220.3,265.3 C222.9,265.9 225.5,266.2 228.1,266.6 C230.7,267.0 233.4,267.2 236.0,267.7 C238.6,268.2 241.2,269.1 243.8,269.7 C246.3,270.3 249.0,270.8 251.6,271.2 C254.2,271.7 256.8,272.0 259.4,272.3 C262.0,272.6 264.2,272.7 267.2,272.8 C270.2,272.9 275.6,273.1 277.3,273.1"/>
<path class="ax" d="M44.5,287.4 H278.5 M83.5,201.4 V308.9"/>
<path class="tk" d="M44.5,287.4 v1.4 M122.5,287.4 v1.4 M161.5,287.4 v1.4 M200.5,287.4 v1.4 M239.5,287.4 v1.4 M278.5,287.4 v1.4 M83.5,244.4 h-1.4 M83.5,201.4 h-1.4 "/>
<path class="c" stroke="#fdc89b" d="M307.0,286.0 C307.8,286.5 310.2,288.3 312.0,289.0 C313.8,289.7 316.2,289.4 318.0,290.0 C319.8,290.6 321.5,292.0 323.0,292.5 C324.5,293.0 325.7,293.6 327.0,293.0 C328.3,292.4 329.7,289.9 331.0,289.0 C332.3,288.1 333.6,287.3 335.0,287.5 C336.4,287.7 338.0,288.9 339.5,290.0 C341.0,291.1 342.6,293.5 344.0,294.0 C345.4,294.5 346.8,293.7 348.0,293.0 C349.2,292.3 350.0,290.2 351.0,290.0 C352.0,289.8 352.9,290.4 354.0,291.5 C355.1,292.6 356.4,295.0 357.5,296.5 C358.6,298.0 359.7,300.8 360.8,300.5 C361.9,300.2 363.1,298.1 364.0,295.0 C364.9,291.9 365.6,286.1 366.5,282.0 C367.4,277.9 368.2,273.2 369.1,270.5 C370.0,267.8 370.9,265.9 371.8,266.0 C372.7,266.1 373.5,268.8 374.5,271.0 C375.5,273.2 376.6,277.4 377.8,279.5 C379.0,281.6 380.3,282.9 381.5,283.5 C382.7,284.1 383.6,284.4 385.0,283.0 C386.4,281.6 387.9,276.8 390.2,274.9 C392.5,273.0 396.5,273.2 398.8,271.5 C401.1,269.8 401.6,266.5 403.9,264.6 C406.2,262.7 409.9,260.7 412.5,260.3 C415.1,259.9 417.4,262.6 419.4,262.0 C421.4,261.4 422.6,258.2 424.6,256.8 C426.6,255.4 429.2,254.4 431.5,253.4 C433.8,252.4 436.2,251.5 438.4,250.8 C440.5,250.1 442.5,248.2 444.4,249.1 C446.2,250.0 448.2,254.6 449.5,256.0 C450.8,257.4 451.1,257.0 452.0,257.5 C452.9,258.0 453.8,258.6 455.2,259.2 C456.6,259.8 458.7,259.6 460.4,260.9 C462.1,262.2 463.8,266.6 465.5,267.0 C467.2,267.4 469.0,263.8 470.7,263.5 C472.4,263.2 474.2,264.5 475.9,265.2 C477.6,265.9 479.1,266.6 481.1,267.8 C483.1,269.0 486.0,272.0 488.0,272.1 C490.0,272.2 491.5,269.6 493.2,268.7 C494.9,267.8 496.7,266.4 498.4,267.0 C500.1,267.6 501.8,271.5 503.5,272.1 C505.2,272.7 507.0,270.2 508.7,270.4 C510.4,270.5 512.2,272.3 513.9,273.0 C515.6,273.7 517.4,273.8 519.1,274.7 C520.8,275.6 522.6,278.0 524.3,278.2 C526.0,278.4 527.7,276.3 529.4,275.6 C531.1,274.9 532.9,273.5 534.6,273.9 C536.3,274.3 538.9,277.5 539.8,278.2"/>
<path class="c" stroke="#fd9f55" d="M307.0,287.0 C308.2,287.1 312.2,287.2 314.5,287.6 C316.8,288.0 319.1,288.9 320.8,289.5 C322.4,290.1 323.5,291.0 324.5,291.4 C325.5,291.8 326.2,292.2 327.0,292.0 C327.8,291.8 328.5,291.1 329.5,290.1 C330.5,289.1 332.2,286.4 333.2,285.8 C334.3,285.1 334.7,285.9 335.8,286.4 C336.8,286.9 338.1,287.9 339.5,288.9 C340.9,289.9 342.7,292.0 344.0,292.5 C345.3,293.0 346.4,292.8 347.5,292.0 C348.6,291.2 349.5,288.4 350.5,288.0 C351.5,287.6 352.4,288.3 353.5,289.5 C354.6,290.7 355.8,293.3 357.0,295.0 C358.2,296.7 359.5,299.7 360.6,299.5 C361.7,299.3 362.9,297.1 363.8,294.0 C364.8,290.9 365.5,285.1 366.3,281.0 C367.1,276.9 368.0,272.2 368.9,269.5 C369.8,266.8 370.7,264.9 371.6,265.0 C372.5,265.1 373.3,267.8 374.3,270.0 C375.3,272.2 376.4,276.4 377.5,278.5 C378.6,280.6 379.9,282.1 381.0,282.5 C382.1,282.9 383.0,282.2 384.0,281.0 C385.0,279.8 386.0,277.0 387.0,275.0 C388.0,273.0 388.9,270.4 390.2,268.9 C391.5,267.4 393.4,266.9 395.0,266.0 C396.6,265.1 398.3,264.7 400.0,263.5 C401.7,262.3 403.2,260.2 405.0,259.0 C406.8,257.8 409.2,256.8 411.0,256.0 C412.8,255.2 414.4,255.3 416.0,254.0 C417.6,252.7 418.9,249.8 420.5,248.0 C422.1,246.2 423.6,243.5 425.4,243.1 C427.2,242.7 429.6,245.6 431.5,245.7 C433.4,245.8 434.6,244.6 436.6,243.9 C438.6,243.2 441.5,241.0 443.5,241.4 C445.5,241.8 447.0,244.9 448.7,246.5 C450.4,248.1 452.7,250.4 453.8,250.8 C454.9,251.2 454.2,249.3 455.2,248.8 C456.1,248.3 458.1,246.8 459.5,248.0 C460.9,249.2 462.2,253.3 463.8,255.7 C465.4,258.1 467.3,261.7 469.0,262.6 C470.7,263.5 472.5,260.6 474.2,260.9 C475.9,261.2 477.7,263.0 479.4,264.4 C481.1,265.8 482.8,268.9 484.5,269.5 C486.2,270.1 488.0,268.9 489.7,267.8 C491.4,266.7 493.2,262.9 494.9,262.6 C496.6,262.3 498.4,264.7 500.1,266.1 C501.8,267.6 503.6,271.2 505.3,271.3 C507.0,271.4 508.7,267.0 510.4,267.0 C512.1,267.0 513.9,269.9 515.6,271.3 C517.3,272.7 519.1,274.9 520.8,275.6 C522.5,276.3 524.3,276.5 526.0,275.6 C527.7,274.7 529.5,271.0 531.2,270.4 C532.9,269.8 535.0,271.5 536.4,272.1 C537.8,272.7 539.2,273.6 539.8,273.9"/>
<path class="c" stroke="#f9691c" d="M307.0,282.0 C307.2,282.5 307.9,284.3 308.5,285.0 C309.1,285.7 309.5,286.2 310.5,286.4 C311.5,286.6 312.8,286.7 314.5,286.4 C316.2,286.1 319.1,284.7 320.8,284.5 C322.4,284.3 323.2,284.7 324.5,285.1 C325.8,285.5 327.0,287.0 328.2,287.0 C329.5,287.0 330.8,285.1 332.0,285.1 C333.2,285.1 334.5,286.2 335.8,287.0 C337.0,287.8 338.0,289.2 339.5,290.1 C341.0,291.0 343.2,292.5 344.5,292.6 C345.8,292.8 346.5,292.1 347.5,291.0 C348.5,289.9 349.3,286.7 350.3,286.1 C351.3,285.5 352.4,286.4 353.5,287.5 C354.6,288.6 355.9,291.2 357.0,293.0 C358.1,294.8 359.3,298.0 360.4,298.0 C361.5,298.0 362.6,296.0 363.6,293.0 C364.6,290.0 365.3,284.1 366.2,280.0 C367.1,275.9 367.9,271.1 368.8,268.5 C369.7,265.9 370.6,264.2 371.5,264.5 C372.4,264.8 373.2,267.8 374.2,270.0 C375.2,272.2 376.4,276.2 377.5,278.0 C378.6,279.8 379.6,279.9 380.5,280.5 C381.4,281.1 382.1,281.6 382.8,281.7 C383.6,281.8 384.4,282.7 385.0,281.3 C385.6,279.9 385.6,275.1 386.7,273.2 C387.8,271.3 390.2,270.9 391.9,269.8 C393.6,268.6 395.3,267.6 397.0,266.3 C398.7,265.0 400.5,263.3 402.2,262.0 C403.9,260.7 405.8,258.9 407.4,258.6 C409.0,258.3 410.3,259.0 411.7,260.3 C413.1,261.6 414.6,266.0 416.0,266.3 C417.4,266.6 418.9,263.9 420.3,262.0 C421.7,260.1 422.7,256.2 424.6,255.1 C426.5,253.9 429.2,255.4 431.5,255.1 C433.8,254.8 436.4,254.1 438.4,253.4 C440.4,252.7 441.9,250.5 443.5,250.8 C445.1,251.1 446.5,253.5 447.8,255.1 C449.1,256.7 450.1,259.9 451.3,260.3 C452.5,260.7 453.7,259.0 455.2,257.5 C456.7,256.0 458.7,252.0 460.4,251.4 C462.1,250.8 463.8,252.6 465.5,254.0 C467.2,255.4 469.0,258.9 470.7,260.0 C472.4,261.1 474.2,260.3 475.9,260.9 C477.6,261.5 479.4,262.2 481.1,263.5 C482.8,264.8 484.6,268.4 486.3,268.7 C488.0,269.0 489.9,266.2 491.5,265.2 C493.1,264.2 494.4,262.3 495.8,262.6 C497.2,262.9 498.5,265.7 500.1,267.0 C501.7,268.3 503.7,270.4 505.3,270.4 C506.9,270.4 508.2,267.0 509.6,267.0 C511.0,267.0 512.3,269.0 513.9,270.4 C515.5,271.8 517.4,275.0 519.1,275.6 C520.8,276.2 522.6,274.8 524.3,273.9 C526.0,273.0 527.7,270.8 529.4,270.4 C531.1,270.0 532.9,270.4 534.6,271.3 C536.3,272.2 538.9,274.9 539.8,275.6"/>
<path class="c" stroke="#e2460b" d="M307.0,285.1 C307.6,284.8 309.5,283.2 310.8,283.2 C312.0,283.2 312.8,284.8 314.5,285.1 C316.2,285.4 318.7,284.9 320.8,285.1 C322.8,285.3 324.9,285.7 327.0,286.4 C329.1,287.1 331.2,288.6 333.2,289.5 C335.3,290.4 337.6,291.3 339.5,292.0 C341.4,292.7 343.0,294.1 344.5,293.9 C346.0,293.7 347.2,291.9 348.2,290.8 C349.3,289.6 349.7,287.3 350.8,287.0 C351.8,286.7 353.3,287.7 354.5,288.9 C355.7,290.1 356.9,292.6 358.0,294.0 C359.1,295.4 359.8,297.8 360.8,297.5 C361.8,297.2 363.1,294.9 364.0,292.0 C364.9,289.1 365.6,283.9 366.4,280.0 C367.2,276.1 368.1,270.9 369.0,268.3 C369.9,265.7 370.7,264.2 371.6,264.3 C372.5,264.4 373.2,266.9 374.2,269.0 C375.2,271.1 376.4,275.2 377.5,277.0 C378.6,278.8 379.6,278.8 380.5,279.5 C381.4,280.2 382.1,281.1 383.0,281.5 C383.9,281.9 385.1,282.9 386.0,281.8 C386.9,280.7 387.1,277.0 388.4,274.9 C389.7,272.8 391.7,271.0 393.6,268.9 C395.5,266.8 397.6,263.7 399.6,262.0 C401.6,260.3 403.6,259.5 405.7,258.6 C407.8,257.7 410.5,257.8 412.5,256.8 C414.5,255.8 416.0,253.9 417.7,252.5 C419.4,251.1 421.2,248.9 422.9,248.2 C424.6,247.5 426.3,248.5 428.0,248.2 C429.7,247.9 431.2,247.3 433.2,246.5 C435.2,245.7 438.2,243.4 440.1,243.1 C442.0,242.8 443.0,244.1 444.4,244.8 C445.8,245.5 447.4,246.8 448.7,247.2 C450.0,247.6 450.9,246.6 452.0,247.3 C453.1,248.0 453.8,250.9 455.2,251.4 C456.6,251.9 458.7,250.2 460.4,250.5 C462.1,250.8 463.8,251.7 465.5,253.1 C467.2,254.5 469.0,257.8 470.7,259.2 C472.4,260.6 474.2,261.5 475.9,261.8 C477.6,262.1 479.7,260.5 481.1,260.9 C482.5,261.3 483.2,263.1 484.5,264.4 C485.8,265.7 487.4,268.4 488.9,268.7 C490.3,269.0 491.8,267.0 493.2,266.1 C494.6,265.2 496.1,263.2 497.5,263.5 C498.9,263.8 500.2,266.8 501.8,267.8 C503.4,268.8 505.3,269.4 507.0,269.5 C508.7,269.6 510.6,268.0 512.2,268.7 C513.8,269.4 515.1,272.6 516.5,273.9 C517.9,275.2 519.2,276.5 520.8,276.5 C522.4,276.5 524.3,274.8 526.0,273.9 C527.7,273.0 529.5,271.3 531.2,271.3 C532.9,271.3 535.0,272.2 536.4,273.9 C537.8,275.6 539.2,280.3 539.8,281.6"/>
<path class="c" stroke="#a93106" d="M307.0,283.9 C307.6,283.6 309.1,282.0 310.8,282.0 C312.4,282.0 314.9,283.2 317.0,283.9 C319.1,284.6 321.2,285.7 323.2,286.4 C325.3,287.1 327.4,287.6 329.5,288.2 C331.6,288.9 333.7,289.3 335.8,290.1 C337.8,290.9 340.3,292.4 342.0,293.2 C343.7,294.1 344.6,295.3 346.0,295.0 C347.4,294.7 349.2,292.1 350.3,291.2 C351.4,290.3 351.9,289.6 352.9,289.9 C353.9,290.2 355.0,291.8 356.3,293.0 C357.6,294.2 359.3,297.2 360.6,297.2 C361.9,297.2 363.0,295.7 364.0,293.0 C365.0,290.3 365.7,285.0 366.6,281.0 C367.5,277.0 368.3,271.7 369.2,268.9 C370.1,266.1 370.9,264.1 371.8,264.1 C372.7,264.1 373.4,266.7 374.4,268.9 C375.4,271.1 376.5,275.4 377.8,277.5 C379.1,279.6 380.8,280.8 382.1,281.8 C383.4,282.8 384.4,283.8 385.5,283.5 C386.6,283.2 387.9,281.1 389.0,280.0 C390.1,278.9 390.6,277.9 391.9,276.6 C393.2,275.3 395.4,274.5 397.0,272.3 C398.6,270.1 399.9,265.7 401.4,263.7 C402.8,261.7 404.1,261.1 405.7,260.3 C407.3,259.5 409.1,258.8 410.8,258.6 C412.5,258.5 414.6,259.8 416.0,259.4 C417.4,259.0 418.1,257.3 419.4,256.0 C420.7,254.7 422.1,252.3 423.7,251.7 C425.3,251.1 427.3,252.7 428.9,252.5 C430.5,252.3 431.8,251.7 433.2,250.8 C434.6,250.0 436.1,248.4 437.5,247.4 C438.9,246.4 440.5,244.7 441.8,244.8 C443.1,244.9 444.1,246.6 445.2,248.2 C446.3,249.8 447.4,252.6 448.7,254.3 C450.0,256.0 451.6,257.8 453.0,258.2 C454.4,258.6 456.1,256.9 457.3,256.5 C458.5,256.1 459.2,255.4 460.4,255.7 C461.6,256.0 463.3,257.0 464.7,258.3 C466.1,259.6 467.7,262.1 469.0,263.5 C470.3,264.9 471.4,266.7 472.5,267.0 C473.6,267.3 474.8,265.9 475.9,265.2 C477.0,264.5 478.1,262.6 479.4,262.6 C480.7,262.6 482.3,264.1 483.7,265.2 C485.1,266.3 486.7,268.6 488.0,269.5 C489.3,270.4 490.4,270.8 491.5,270.4 C492.6,270.0 493.8,268.0 494.9,267.0 C496.0,266.0 497.2,264.4 498.4,264.4 C499.5,264.4 500.5,265.9 501.8,267.0 C503.1,268.1 504.7,271.0 506.1,271.3 C507.5,271.6 509.1,269.7 510.4,268.7 C511.7,267.7 512.7,266.1 513.9,265.2 C515.1,264.3 516.2,263.2 517.4,263.5 C518.5,263.8 519.6,265.6 520.8,267.0 C521.9,268.4 523.0,270.8 524.3,272.1 C525.6,273.4 527.3,274.6 528.6,274.7 C529.9,274.8 530.9,272.9 532.0,273.0 C533.1,273.1 534.2,275.0 535.5,275.6 C536.8,276.2 539.1,276.4 539.8,276.5"/>
<path class="ax" d="M306.7,287.4 H540.7 M345.7,201.4 V308.9"/>
<path class="tk" d="M306.7,287.4 v1.4 M384.7,287.4 v1.4 M423.7,287.4 v1.4 M462.7,287.4 v1.4 M501.7,287.4 v1.4 M540.7,287.4 v1.4 M345.7,244.4 h-1.4 M345.7,201.4 h-1.4 "/>

<text x="161.4" y="22.5" font-size="17.2" text-anchor="middle">Model Outputs</text>
<text x="423.5" y="22.5" font-size="17.2" text-anchor="middle">Event-related Potentials</text>
<text transform="translate(22.5,63) rotate(-90)" font-size="17.2" text-anchor="middle">Target</text>
<text transform="translate(22.5,214.3) rotate(-90)" font-size="17.2" text-anchor="middle">Non-target</text>
<text x="37.2" y="27" font-size="14.4"><tspan font-style="italic">μ</tspan>V</text>
<g font-size="11.6" text-anchor="end" stroke="#000" stroke-width="0.2">
<text x="76.9" y="36.4">20</text>
<text x="76.9" y="79.5">10</text>
<text x="77.1" y="122.5">0</text>
</g>
<g font-size="11.6" text-anchor="middle" stroke="#000" stroke-width="0.2">
<text x="44.7" y="134.0">−0.2</text>
<text x="83.2" y="134.0">0.0</text>
<text x="122.8" y="134.0">0.2</text>
<text x="161.3" y="134.0">0.4</text>
<text x="200.3" y="134.0">0.6</text>
<text x="239.3" y="134.0">0.8</text>
<text x="278.8" y="134.0">1.0</text>
</g>
<text x="278.3" y="153.1" font-size="14.3" text-anchor="end">Time (s)</text>

</svg></body></html>
